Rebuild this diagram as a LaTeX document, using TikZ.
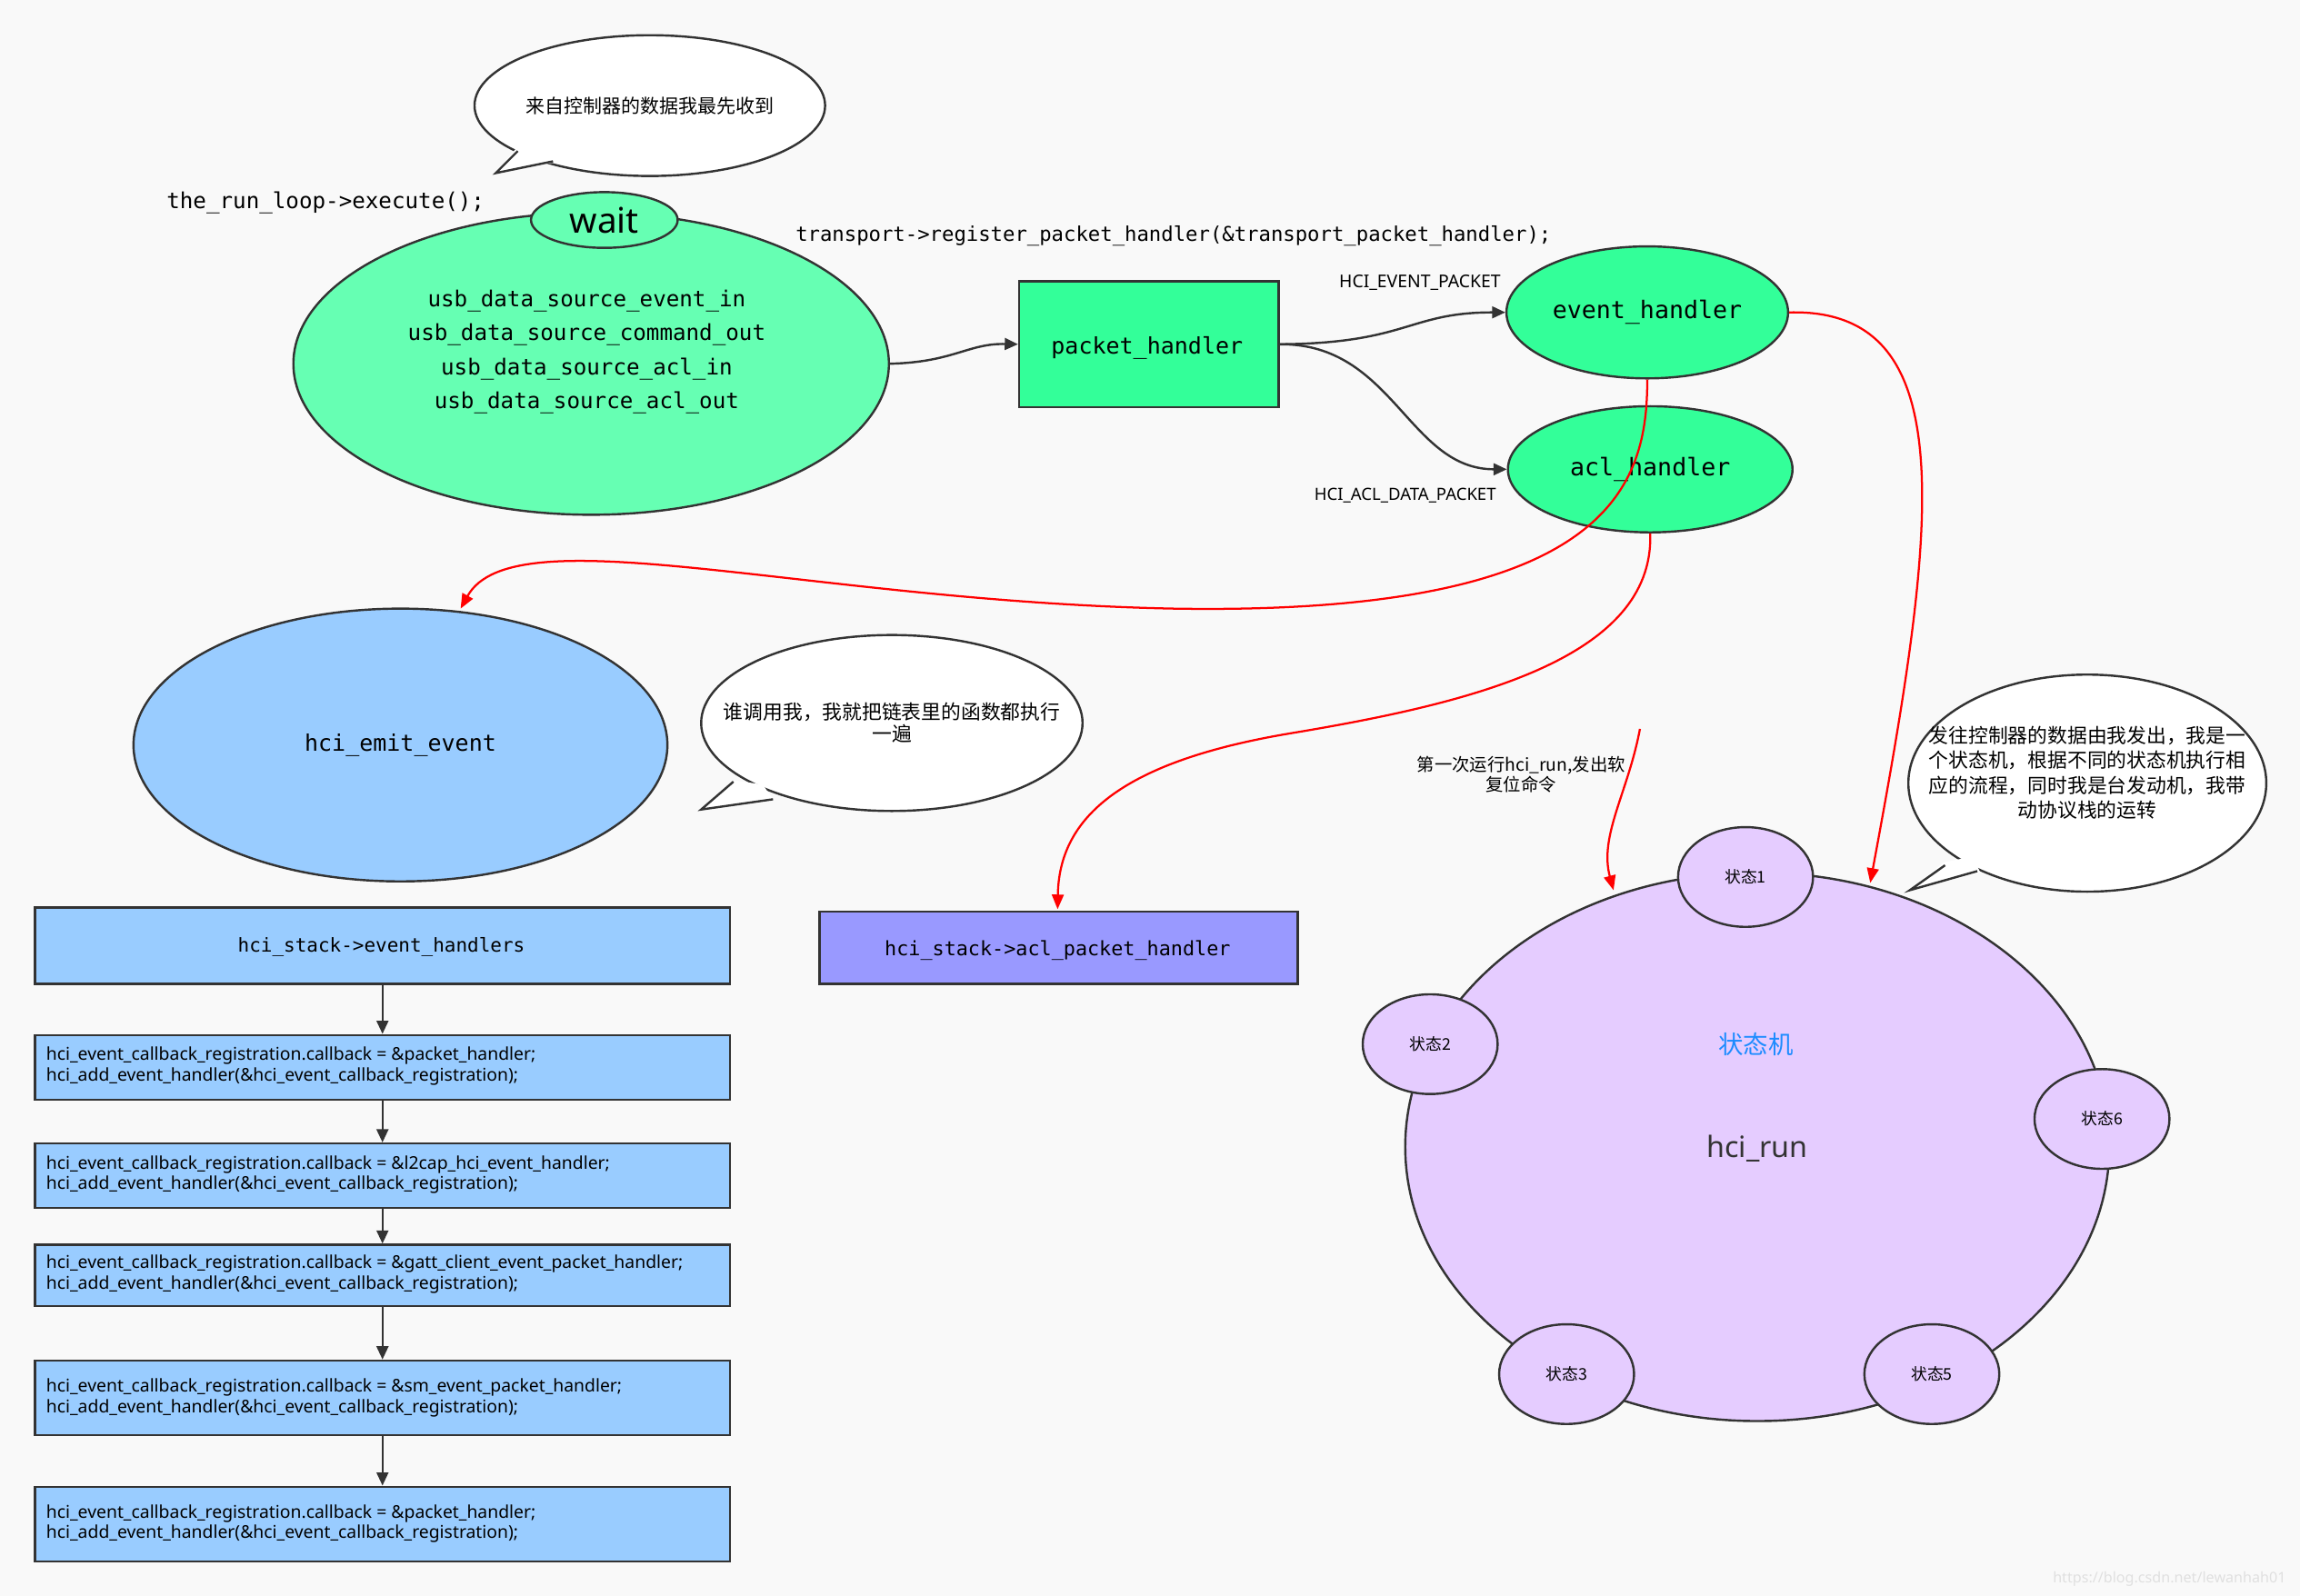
\documentclass[tikz,border=0pt]{standalone}
\usepackage{fontspec}
\setmainfont{Noto Sans CJK SC}
\newfontfamily\mono{DejaVu Sans Mono}
\newfontfamily\sns{Noto Sans}
\usetikzlibrary{shapes.geometric,arrows.meta}
\definecolor{bg}{HTML}{F9F9F9}
\definecolor{lgreen}{HTML}{66FFB3}
\definecolor{green}{HTML}{33FF99}
\definecolor{lblue}{HTML}{99CCFF}
\definecolor{lviolet}{HTML}{9999FF}
\definecolor{lpurple}{HTML}{E5CCFF}
\definecolor{edge}{HTML}{333333}
\definecolor{sblue}{HTML}{1E8CFF}
\begin{document}
\begin{tikzpicture}[x=1pt,y=-1pt,
  ell/.style={ellipse,draw=edge,line width=1.5pt,inner sep=0pt},
  box/.style={rectangle,draw=edge,line width=1.5pt,anchor=north west,inner sep=0pt},
  arr/.style={draw=edge,line width=1.5pt,-{Triangle[length=9pt,width=8pt]}},
  red/.style={draw=red,line width=1.4pt,-{Triangle[length=10pt,width=8pt]}},
  codes/.style={font=\sns\fontsize{12}{14}\selectfont,align=left,anchor=west},
  st/.style={ell,fill=lpurple,minimum width=92pt,minimum height=68pt,font=\fontsize{11}{13}\selectfont}]
\fill[bg] (0,0) rectangle (1568,1088);
\useasboundingbox (0,0) rectangle (1568,1088);
% bubble 1
\node[ell,fill=white,minimum width=212pt,minimum height=96pt,font=\fontsize{13}{15}\selectfont] (b1) at (443,72) {来自控制器的数据我最先收到};
\fill[white] (352,101)--(338,118)--(377,111)--(372,104)--cycle;
\draw[edge,line width=1.5pt] (353,103)--(338,118)--(377,110);
\node[font=\mono\fontsize{15}{17}\selectfont] (rl) at (222,138) {the\_run\_loop->execute();};
% big ellipse
\node[ell,fill=lgreen,minimum width=406pt,minimum height=206pt] (src) at (403,248) {};
\node[font=\mono\fontsize{15}{23.3}\selectfont,align=center] (srct) at (400,240) {usb\_data\_source\_event\_in\\usb\_data\_source\_command\_out\\usb\_data\_source\_acl\_in\\usb\_data\_source\_acl\_out};
\node[ell,fill=lgreen,minimum width=100pt,minimum height=38pt,font=\sns\fontsize{24}{26}\selectfont] (wait) at (412,150) {wait};
\node[font=\mono\fontsize{13.8}{16}\selectfont] (tr) at (800,161) {transport->register\_packet\_handler(\&transport\_packet\_handler);};
\node[box,fill=green,minimum width=177pt,minimum height=86pt] (ph) at (694,191) {};
\node[font=\mono\fontsize{15.5}{17}\selectfont] at (782,237) {packet\_handler};
\node[ell,fill=green,minimum width=192pt,minimum height=90pt,font=\mono\fontsize{16.5}{18}\selectfont] (eh) at (1123,213) {event\_handler};
\node[ell,fill=green,minimum width=194pt,minimum height=86pt,font=\mono\fontsize{16.5}{18}\selectfont] (ah) at (1125,320) {acl\_handler};
\node[font=\sns\fontsize{12}{14}\selectfont] (l1) at (968,193) {HCI\_EVENT\_PACKET};
\node[font=\sns\fontsize{11.5}{14}\selectfont] (l2) at (958,338) {HCI\_ACL\_DATA\_PACKET};
\draw[arr] (src.east) .. controls (650,247) and (660,234) .. (ph.west);
\draw[arr] (ph.east) .. controls (960,234) and (960,213) .. (eh.west);
\draw[arr] (ph.east) .. controls (950,234) and (960,320) .. (ah.west);
% hci_emit_event
\node[ell,fill=lblue,minimum width=364pt,minimum height=186pt,font=\mono\fontsize{15.5}{17}\selectfont] (emit) at (273,508) {hci\_emit\_event};
\node[ell,fill=white,minimum width=260pt,minimum height=120pt] (b2) at (608,493) {};
\node[font=\fontsize{13.5}{15}\selectfont,align=center] (b2t) at (608,493) {谁调用我，我就把链表里的函数都执行\\一遍};
\fill[white] (500,532)--(478,552)--(527,545)--(520,535)--cycle;
\draw[edge,line width=1.5pt] (500,533)--(478,552)--(527,545);
\draw[red] (eh.south) .. controls (1123,330) and (1100,420) .. (800,415) .. controls (550,410) and (350,350) .. (314,415);
\draw[red] (eh.east) .. controls (1340,210) and (1320,360) .. (1275,602);
\draw[red] (ah.south) .. controls (1128,450) and (1000,480) .. (880,500) .. controls (760,520) and (722,560) .. (721,620);
\coordinate (rs) at (1118,497);
\draw[red] (rs) .. controls (1110,540) and (1090,570) .. (1100,607);
\node[font=\fontsize{12}{14}\selectfont,align=center] (fl) at (1037,528) {第一次运行hci\_run,发出软\\复位命令};
% list
\node[box,fill=lblue,minimum width=474pt,minimum height=52pt] (eh0) at (23,618) {};
\node[font=\mono\fontsize{13}{15}\selectfont] at (260,646) {hci\_stack->event\_handlers};
\node[box,fill=lblue,minimum width=474pt,minimum height=44pt] (c1) at (23,705) {};
\node[codes] at (28,727) {hci\_event\_callback\_registration.callback = \&packet\_handler;\\hci\_add\_event\_handler(\&hci\_event\_callback\_registration);};
\node[box,fill=lblue,minimum width=474pt,minimum height=44pt] (c2) at (23,779) {};
\node[codes] at (28,801) {hci\_event\_callback\_registration.callback = \&l2cap\_hci\_event\_handler;\\hci\_add\_event\_handler(\&hci\_event\_callback\_registration);};
\node[box,fill=lblue,minimum width=474pt,minimum height=42pt] (c3) at (23,848) {};
\node[codes] at (28,869) {hci\_event\_callback\_registration.callback = \&gatt\_client\_event\_packet\_handler;\\hci\_add\_event\_handler(\&hci\_event\_callback\_registration);};
\node[box,fill=lblue,minimum width=474pt,minimum height=51pt] (c4) at (23,927) {};
\node[codes] at (28,953) {hci\_event\_callback\_registration.callback = \&sm\_event\_packet\_handler;\\hci\_add\_event\_handler(\&hci\_event\_callback\_registration);};
\node[box,fill=lblue,minimum width=474pt,minimum height=51pt] (c5) at (23,1013) {};
\node[codes] at (28,1039) {hci\_event\_callback\_registration.callback = \&packet\_handler;\\hci\_add\_event\_handler(\&hci\_event\_callback\_registration);};
\draw[arr] (eh0.south) -- (c1.north);
\draw[arr] (c1.south) -- (c2.north);
\draw[arr] (c2.south) -- (c3.north);
\draw[arr] (c3.south) -- (c4.north);
\draw[arr] (c4.south) -- (c5.north);
\node[box,fill=lviolet,minimum width=326pt,minimum height=49pt] (aph) at (558,621) {};
\node[font=\mono\fontsize{13.5}{15}\selectfont] at (721,648) {hci\_stack->acl\_packet\_handler};
% state machine
\node[ell,fill=lpurple,minimum width=480pt,minimum height=374pt] (sm) at (1198,782) {};
\node[font=\fontsize{17}{19}\selectfont,text=sblue] (smt) at (1197,712) {状态机};
\node[font=\sns\fontsize{20}{22}\selectfont,text=edge] (hr) at (1198,783) {hci\_run};
\node[st] (s1) at (1190,598) {状态1};
\node[st] (s2) at (975,712) {状态2};
\node[st] (s6) at (1433,763) {状态6};
\node[st] (s3) at (1068,937) {状态3};
\node[st] (s5) at (1317,937) {状态5};
\node[ell,fill=white,minimum width=244pt,minimum height=148pt] (b3) at (1423,534) {};
\node[font=\fontsize{13.5}{17}\selectfont,align=center] (b3t) at (1423,527) {发往控制器的数据由我发出，我是一\\个状态机，根据不同的状态机执行相\\应的流程，同时我是台发动机，我带\\动协议栈的运转};
\fill[white] (1325,588)--(1302,607)--(1350,595)--(1345,584)--cycle;
\draw[edge,line width=1.5pt] (1326,590)--(1302,607)--(1348,594);
\node[font=\sns\fontsize{10}{12}\selectfont,text=black!12,anchor=east] (wm) at (1562,1077) {https://blog.csdn.net/lewanhah01};
\end{tikzpicture}
\end{document}
